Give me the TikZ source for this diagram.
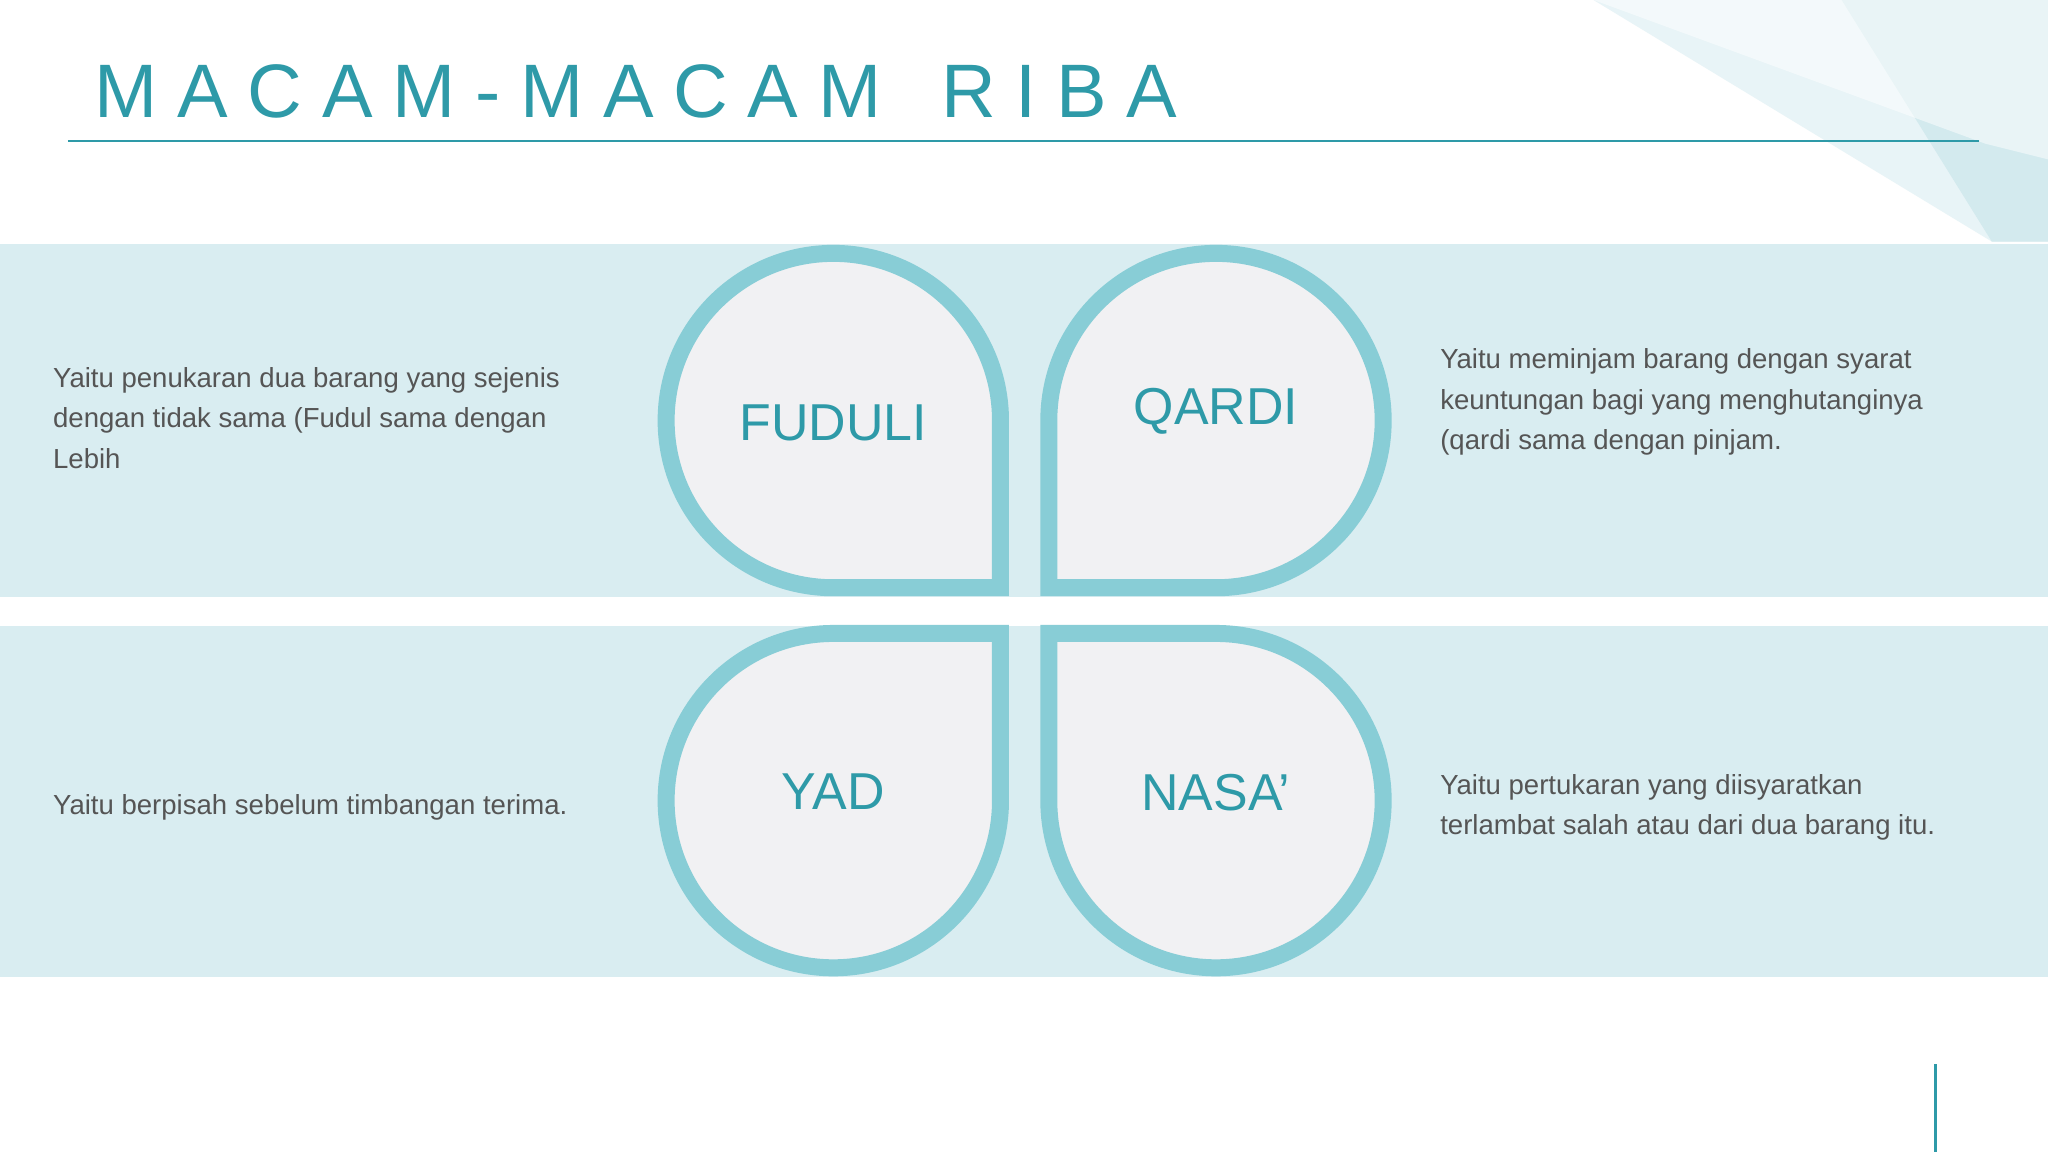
\documentclass[tikz,border=0pt]{standalone}
\usepackage{fontspec}
\setmainfont{Liberation Sans}
\definecolor{teal1}{HTML}{2E9AA8}
\definecolor{band}{HTML}{D9EDF1}
\definecolor{ring}{HTML}{88CDD6}
\definecolor{petal}{HTML}{F1F1F3}
\definecolor{body}{HTML}{555555}
\begin{document}
\begin{tikzpicture}[x=0.01cm,y=0.01cm,
  petalst/.style={draw=ring,fill=petal,line width=0.13cm},
  lab/.style={text=teal1,font=\fontsize{11.3pt}{14pt}\selectfont},
  desc/.style={text=body,font=\fontsize{6pt}{8.8pt}\selectfont,align=left,anchor=west,inner sep=0}]
\useasboundingbox (0,0) rectangle (1568,882);
\fill[white] (0,0) rectangle (1568,882);
% corner decoration
\fill[band!60] (1220,882) -- (1568,882) -- (1568,697) -- (1525,697) -- cycle;
\fill[band!90!teal1!80] (1410,882) -- (1568,882) -- (1568,697) -- (1525,697) -- cycle;
\fill[white,opacity=0.5] (1220,882) -- (1520,772) -- (1568,760) -- (1568,882) -- cycle;
% title
\node[anchor=base west,text=teal1,inner sep=0] (title) at (72,792)
  {\fontsize{16.5pt}{20pt}\selectfont\addfontfeature{LetterSpace=26}MACAM-MACAM\hspace{0.25em} RIBA};
\draw[teal1,line width=0.4pt] (52,774) -- (1515,774);
% bands
\fill[band] (0,695) rectangle (1568,425);
\fill[band] (0,403) rectangle (1568,134);
% petals
\def\r{128}
\draw[petalst] (638+\r,560) arc[start angle=0,end angle=270,radius=\r] -- (638+\r,560-\r) -- cycle;
\draw[petalst] (931,560-\r) arc[start angle=270,end angle=540,radius=\r] -- (931-\r,560-\r) -- cycle;
\draw[petalst] (638,269+\r) arc[start angle=90,end angle=360,radius=\r] -- (638+\r,269+\r) -- cycle;
\draw[petalst] (931-\r,269) arc[start angle=180,end angle=450,radius=\r] -- (931-\r,269+\r) -- cycle;
\node[lab] (fuduli) at (638,558) {FUDULI};
\node[lab] (qardi) at (931,567) {QARDI};
\node[lab] (yad) at (638,276) {YAD};
\node[lab] (nasa) at (931,275) {NASA’};
% descriptions
\node[desc] (d1) at (40,562) {Yaitu penukaran dua barang yang sejenis\\dengan tidak sama (Fudul sama dengan\\Lebih};
\node[desc] (d2) at (1102,574) {Yaitu meminjam barang dengan syarat\\keuntungan bagi yang menghutanginya\\(qardi sama dengan pinjam.};
\node[desc] (d3) at (40,264) {Yaitu berpisah sebelum timbangan terima.};
\node[desc] (d4) at (1102,264) {Yaitu pertukaran yang diisyaratkan\\terlambat salah atau dari dua barang itu.};
\draw[teal1,line width=0.6pt] (1482,67) -- (1482,0);
\end{tikzpicture}
\end{document}
